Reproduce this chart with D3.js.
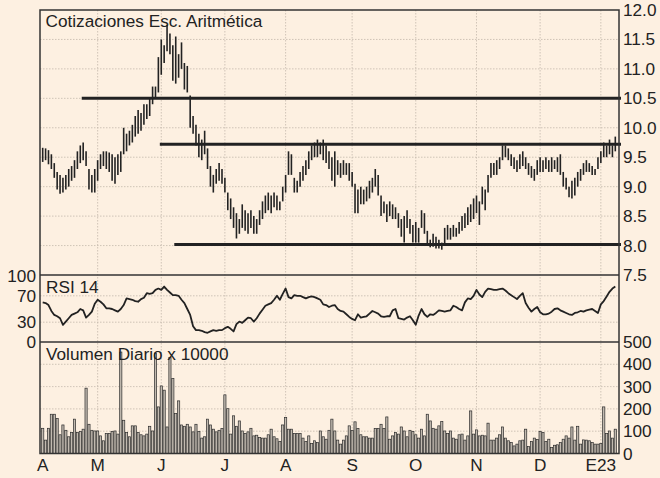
<!DOCTYPE html>
<html>
<head>
<meta charset="utf-8">
<script src="https://cdnjs.cloudflare.com/ajax/libs/d3/7.8.5/d3.min.js"></script>
<style>
body { margin: 0; background: #fdf0e1; }
svg text { font-family: "Liberation Sans", Arial, Helvetica, sans-serif; fill: #222; }
</style>
</head>
<body>
<svg id="chart" width="660" height="478"></svg>
<script>

// daily high / low of the price (one entry per trading day, Apr 2022 - Jan 2023)
var highs = [
  9.66, 9.65, 9.62, 9.55, 9.4, 9.25, 9.2, 9.15, 9.2, 9.3,
  9.35, 9.45, 9.6, 9.7, 9.75, 9.6, 9.3, 9.2, 9.3, 9.45,
  9.55, 9.6, 9.6, 9.58, 9.55, 9.5, 9.55, 9.6, 10.0, 9.9,
  9.95, 10.05, 10.2, 10.3, 10.25, 10.4, 10.4, 10.5, 10.7, 10.7,
  11.2, 11.5, 11.4, 11.75, 11.6, 11.4, 11.55, 11.25, 11.45, 11.1,
  11.05, 10.55, 10.2, 10.05, 9.9, 9.8, 9.95, 9.65, 9.35, 9.2,
  9.3, 9.4, 9.3, 9.15, 8.9, 8.8, 8.65, 8.55, 8.45, 8.7,
  8.6, 8.55, 8.6, 8.5, 8.45, 8.6, 8.75, 8.85, 8.9, 8.85,
  8.9, 8.85, 8.75, 9.0, 9.2, 9.6, 9.55, 9.15, 9.1, 9.25,
  9.35, 9.45, 9.6, 9.7, 9.75, 9.8, 9.75, 9.8, 9.7, 9.6,
  9.5, 9.6, 9.45, 9.4, 9.45, 9.4, 9.4, 9.25, 9.05, 8.95,
  9.0, 8.95, 9.0, 9.1, 9.15, 9.3, 9.2, 8.85, 8.75, 8.7,
  8.75, 8.7, 8.65, 8.55, 8.45, 8.5, 8.6, 8.45, 8.35, 8.4,
  8.3, 8.6, 8.55, 8.25, 8.1, 8.2, 8.15, 8.1, 8.05, 8.3,
  8.35, 8.3, 8.35, 8.3, 8.4, 8.5, 8.55, 8.65, 8.7, 8.8,
  8.85, 8.75, 9.0, 8.95, 9.2, 9.4, 9.4, 9.45, 9.5, 9.7,
  9.7, 9.65, 9.55, 9.5, 9.45, 9.55, 9.6, 9.5, 9.4, 9.35,
  9.3, 9.45, 9.5, 9.45, 9.5, 9.45, 9.5, 9.45, 9.5, 9.55,
  9.25, 9.15, 9.0, 9.1, 9.15, 9.25, 9.3, 9.4, 9.45, 9.4,
  9.35, 9.3, 9.5, 9.6, 9.75, 9.7, 9.8, 9.7, 9.85
];
var lows = [
  9.42, 9.45, 9.38, 9.3, 9.15, 8.95, 8.88, 8.9, 8.95, 9.0,
  9.1, 9.15, 9.3, 9.4, 9.45, 9.35, 8.95, 8.9, 8.9, 9.1,
  9.3, 9.35, 9.3, 9.25, 9.1, 9.05, 9.2, 9.25, 9.55, 9.6,
  9.7, 9.75, 9.85, 9.9, 9.95, 10.05, 10.15, 10.2, 10.4, 10.5,
  10.6, 10.9, 11.1, 11.3, 11.25, 10.8, 10.75, 10.85, 11.0, 10.65,
  10.6, 10.0, 9.9, 9.7, 9.5, 9.45, 9.55, 9.3, 9.0, 8.9,
  9.05, 9.1, 9.05, 8.9, 8.6, 8.45, 8.3, 8.12, 8.2, 8.3,
  8.25, 8.2, 8.3, 8.2, 8.2, 8.35, 8.45, 8.55, 8.6, 8.55,
  8.65, 8.6, 8.6, 8.75, 8.9, 9.2, 9.2, 8.9, 8.9, 9.0,
  9.1, 9.2, 9.3, 9.45, 9.5, 9.5, 9.55, 9.45, 9.4, 9.3,
  9.1, 9.0, 9.2, 9.15, 9.2, 9.2, 9.1, 9.0, 8.55, 8.55,
  8.7, 8.7, 8.75, 8.8, 8.9, 9.0, 8.85, 8.5, 8.55, 8.4,
  8.5, 8.45, 8.45, 8.3, 8.15, 8.05, 8.3, 8.2, 8.05, 8.05,
  8.05, 8.3, 8.2, 8.0, 7.97, 7.98, 7.95, 7.95, 7.93, 8.0,
  8.1, 8.1, 8.15, 8.15, 8.2, 8.25, 8.3, 8.35, 8.4, 8.45,
  8.55, 8.35, 8.7, 8.6, 8.9, 9.15, 9.2, 9.2, 9.3, 9.45,
  9.5, 9.45, 9.35, 9.3, 9.25, 9.3, 9.35, 9.3, 9.2, 9.15,
  9.1, 9.2, 9.25, 9.25, 9.3, 9.25, 9.25, 9.3, 9.25, 9.2,
  9.0, 8.95, 8.82, 8.8, 8.85, 9.0, 9.1, 9.2, 9.25, 9.25,
  9.2, 9.2, 9.3, 9.4, 9.5, 9.5, 9.55, 9.5, 9.6
];

// RSI 14
var rsi = [
  60, 59, 56, 47, 41, 39, 36, 26, 31, 36, 41, 43, 45, 50, 48, 37, 41, 46, 58, 64,
  61, 57, 51, 51, 50, 48, 46, 50, 56, 66, 65, 64, 62, 61, 65, 67, 74, 73, 74, 79,
  81, 79, 84, 79, 75, 71, 71, 70, 64, 59, 50, 41, 24, 18, 18, 17, 15, 14, 16, 18,
  17, 18, 18, 21, 23, 20, 16, 27, 31, 29, 33, 37, 36, 31, 36, 43, 49, 55, 57, 59,
  64, 70, 64, 73, 81, 68, 66, 71, 70, 70, 68, 66, 68, 69, 68, 66, 64, 57, 56, 53,
  55, 56, 50, 47, 46, 42, 38, 35, 33, 42, 37, 38, 39, 43, 47, 45, 43, 39, 38, 39,
  39, 48, 50, 36, 35, 34, 37, 39, 33, 26, 40, 50, 42, 38, 42, 41, 44, 48, 47, 46,
  47, 48, 55, 53, 50, 48, 60, 66, 65, 70, 79, 72, 68, 76, 81, 80, 79, 79, 80, 81,
  78, 74, 71, 68, 65, 70, 74, 59, 52, 46, 50, 53, 45, 42, 42, 43, 46, 50, 51, 48,
  46, 44, 42, 41, 44, 45, 47, 46, 48, 49, 50, 47, 44, 57, 62, 69, 76, 81, 84
];

// daily volume (x 10000)
var volume = [
  113, 60, 113, 176, 176, 157, 84, 128, 104, 75, 94, 154, 94, 99, 109, 293, 131, 104, 101, 101,
  79, 57, 90, 90, 99, 101, 87, 455, 149, 94, 75, 124, 124, 94, 84, 79, 87, 122, 101, 450,
  209, 303, 284, 119, 430, 337, 179, 236, 128, 122, 131, 119, 97, 131, 99, 69, 75, 154, 128, 109,
  97, 104, 112, 263, 201, 87, 169, 122, 146, 101, 90, 97, 113, 79, 82, 72, 69, 69, 84, 109,
  75, 66, 54, 128, 161, 109, 109, 90, 90, 90, 69, 54, 79, 45, 57, 49, 101, 75, 64, 104,
  154, 101, 60, 42, 60, 79, 124, 104, 142, 112, 84, 75, 75, 69, 69, 112, 112, 131, 112, 164,
  64, 79, 94, 87, 119, 101, 75, 104, 99, 84, 69, 109, 79, 176, 146, 113, 109, 124, 143, 101,
  90, 101, 69, 64, 84, 87, 60, 79, 191, 87, 106, 79, 82, 79, 136, 60, 60, 69, 84, 119,
  69, 57, 49, 34, 42, 57, 60, 109, 31, 54, 69, 63, 99, 94, 54, 64, 27, 37, 39, 49,
  64, 79, 69, 119, 60, 122, 42, 61, 60, 57, 49, 42, 42, 45, 209, 90, 101, 69, 109
];

var monthLabels = ["A", "M", "J", "J", "A", "S", "O", "N", "D", "E23"];
var monthStarts = [0, 19, 41, 63, 84, 107, 129, 150, 172, 193];

var priceTicks = [7.5, 8.0, 8.5, 9.0, 9.5, 10.0, 10.5, 11.0, 11.5, 12.0];
var rsiTicks = [0, 30, 70, 100];
var volumeTicks = [0, 100, 200, 300, 400, 500];

// horizontal support / resistance lines: level and first day
var levels = [10.5, 9.72, 8.02];
var levelStarts = [14, 41, 46];

var left = 40, right = 619;
var priceTop = 10, priceBottom = 275, rsiBottom = 342, volBottom = 453.5;
var ink = "#222";
var gridColor = "#c4b9ac";

var svg = d3.select("#chart");

var x = d3.scaleLinear().domain([0, highs.length]).range([41.25, 616.75]);
var yPrice = d3.scaleLinear().domain([7.5, 12]).range([priceBottom, priceTop]);
var yRsi = d3.scaleLinear().domain([0, 100]).range([rsiBottom, priceBottom + 1]);
var yVol = d3.scaleLinear().domain([0, 500]).range([volBottom, rsiBottom]);
var step = x(1) - x(0);

// grid
var grid = svg.append("g")
    .attr("stroke", gridColor)
    .attr("stroke-width", 0.8)
    .attr("stroke-dasharray", "1.5,1.5");

grid.selectAll("line.v")
    .data(monthStarts.slice(1))
    .enter().append("line")
    .attr("x1", function(d) { return x(d + 0.5); })
    .attr("x2", function(d) { return x(d + 0.5); })
    .attr("y1", priceTop)
    .attr("y2", volBottom);

grid.selectAll("line.p")
    .data(priceTicks.filter(function(d) { return d > 7.5 && d < 12; }))
    .enter().append("line")
    .attr("x1", left).attr("x2", right)
    .attr("y1", yPrice).attr("y2", yPrice);

grid.selectAll("line.r")
    .data([30, 70])
    .enter().append("line")
    .attr("x1", left).attr("x2", right)
    .attr("y1", yRsi).attr("y2", yRsi);

grid.selectAll("line.vol")
    .data(volumeTicks.filter(function(d) { return d > 0 && d < 500; }))
    .enter().append("line")
    .attr("x1", left).attr("x2", right)
    .attr("y1", yVol).attr("y2", yVol);

// volume bars
svg.append("g").selectAll("rect")
    .data(volume)
    .enter().append("rect")
    .attr("x", function(d, i) { return x(i) + 0.35; })
    .attr("width", step - 0.7)
    .attr("y", function(d) { return yVol(d); })
    .attr("height", function(d) { return volBottom - yVol(d); })
    .attr("fill", "#c2bab0")
    .attr("stroke", "#2b2b2b")
    .attr("stroke-width", 0.7);

// price bars
svg.append("g").selectAll("line")
    .data(highs)
    .enter().append("line")
    .attr("x1", function(d, i) { return x(i + 0.5); })
    .attr("x2", function(d, i) { return x(i + 0.5); })
    .attr("y1", function(d) { return yPrice(d); })
    .attr("y2", function(d, i) { return yPrice(lows[i]); })
    .attr("stroke", ink)
    .attr("stroke-width", 1.6);

// support / resistance
svg.append("g").selectAll("line")
    .data(levels)
    .enter().append("line")
    .attr("x1", function(d, i) { return x(levelStarts[i]); })
    .attr("x2", right + 2)
    .attr("y1", yPrice).attr("y2", yPrice)
    .attr("stroke", ink)
    .attr("stroke-width", 3);

// RSI line
var rsiLine = d3.line()
    .x(function(d, i) { return x(i + 0.5); })
    .y(function(d) { return yRsi(d); });

svg.append("path")
    .datum(rsi)
    .attr("d", rsiLine)
    .attr("fill", "none")
    .attr("stroke", ink)
    .attr("stroke-width", 1.8)
    .attr("stroke-linejoin", "round");

// frame and panel separators
svg.append("rect")
    .attr("x", left).attr("y", priceTop)
    .attr("width", right - left).attr("height", volBottom - priceTop)
    .attr("fill", "none").attr("stroke", "#333").attr("stroke-width", 1.5);

svg.selectAll("line.sep")
    .data([priceBottom, rsiBottom])
    .enter().append("line")
    .attr("x1", left).attr("x2", right)
    .attr("y1", function(d) { return d; }).attr("y2", function(d) { return d; })
    .attr("stroke", "#333").attr("stroke-width", 1.5);

// axes
var fontSize = "17.2px";

var priceAxis = svg.append("g")
    .attr("transform", "translate(" + (right + 2) + ",0)")
    .call(d3.axisRight(yPrice).tickValues(priceTicks).tickSize(0).tickPadding(2)
        .tickFormat(d3.format(".1f")));

var rsiAxis = svg.append("g")
    .attr("transform", "translate(" + (left - 4) + ",0)")
    .call(d3.axisLeft(yRsi).tickValues(rsiTicks).tickSize(0).tickPadding(0));

var volAxis = svg.append("g")
    .attr("transform", "translate(" + (right + 2) + ",0)")
    .call(d3.axisRight(yVol).tickValues(volumeTicks).tickSize(0).tickPadding(2));

[priceAxis, rsiAxis, volAxis].forEach(function(a) {
    a.select(".domain").remove();
    a.selectAll("text")
        .attr("font-size", fontSize)
        .attr("font-family", null)
        .style("fill", ink);
});

// month labels
svg.append("g").selectAll("text")
    .data(monthLabels)
    .enter().append("text")
    .attr("x", function(d, i) { return i == 0 ? x(0.5) : x(monthStarts[i] + 0.5); })
    .attr("y", 471)
    .attr("text-anchor", "middle")
    .attr("font-size", fontSize)
    .text(function(d) { return d; });

// panel titles
svg.append("text").attr("x", 45.5).attr("y", 26.5).attr("font-size", fontSize)
    .text("Cotizaciones Esc. Aritmética");
svg.append("text").attr("x", 46).attr("y", 293.3).attr("font-size", fontSize)
    .text("RSI 14");
svg.append("text").attr("x", 46).attr("y", 359.8).attr("font-size", fontSize)
    .text("Volumen Diario x 10000");

</script>
</body>
</html>
